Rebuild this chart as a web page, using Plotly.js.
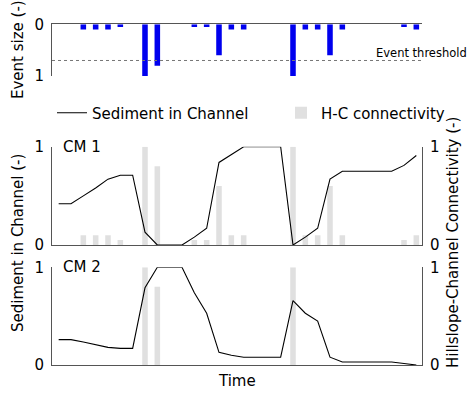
<!DOCTYPE html>
<html>
<head>
<meta charset="utf-8">
<script src="https://cdn.plot.ly/plotly-3.0.1.min.js"></script>
<style>
html,body{margin:0;padding:0;background:#fff;}
#chart{width:474px;height:406px;}
</style>
</head>
<body>
<div id="chart"></div>
<script>
// ---- data ----
var timeSteps = [0,1,2,3,4,5,6,7,8,9,10,11,12,13,14,15,16,17,18,19,20,21,22,23,24,25,26,27,28,29];
var eventSize = [0,0,0.1,0.1,0.1,0.05,0,1.0,0.8,0,0,0.05,0.05,0.6,0.1,0.1,0,0,0,1.0,0.1,0.1,0.6,0.1,0,0,0,0,0.05,0.1];
var eventThreshold = 0.7;
var connectivityCM1 = [0,0,0.1,0.1,0.1,0.05,0,1.0,0.8,0,0,0.05,0.05,0.6,0.1,0.1,0,0,0,1.0,0.1,0.1,0.6,0.1,0,0,0,0,0.05,0.1];
var connectivityCM2 = [0,0,0,0,0,0,0,1.0,0.8,0,0,0,0,0,0,0,0,0,0,1.0,0,0,0,0,0,0,0,0,0,0];
var sedimentCM1 = [0.42,0.42,0.50,0.58,0.67,0.71,0.71,0.13,0,0,0,0.08,0.17,0.84,0.92,1,1,1,1,0,0.08,0.17,0.67,0.75,0.75,0.75,0.75,0.75,0.81,0.91];
var sedimentCM2 = [0.26,0.26,0.235,0.21,0.18,0.17,0.17,0.79,1,1,1,0.74,0.53,0.13,0.10,0.08,0.08,0.08,0.08,0.66,0.53,0.45,0.08,0.03,0.03,0.03,0.03,0.03,0.015,0];
var panelLabels = ["CM 1", "CM 2"];
var tickVals = [0, 1];
var tickText = ["0", "1"];

// ---- layout helpers ----
var W = 474, H = 406;
function px(x){ return x / W; }
function py(y){ return (H - y) / H; }
var xDom = [px(52), px(422)];
var xRange = [-0.54, 29.46];
var FONT = "DejaVu Sans, sans-serif";
var AX = "#555";
var barW = 0.45;

var traces = [
  {type:"bar", x:timeSteps, y:eventSize, width:barW, xaxis:"x", yaxis:"y",
   marker:{color:"#0000ee", line:{width:0}}, showlegend:false, hoverinfo:"skip"},
  {type:"bar", x:timeSteps, y:connectivityCM1, width:barW, xaxis:"x2", yaxis:"y2",
   marker:{color:"#e0e0e0", line:{width:0}}, name:"H-C connectivity", legend:"legend2", showlegend:true},
  {type:"scatter", mode:"lines", x:timeSteps, y:sedimentCM1, xaxis:"x2", yaxis:"y4",
   line:{color:"#000", width:1.1}, name:"Sediment in Channel", legend:"legend", showlegend:true},
  {type:"bar", x:timeSteps, y:connectivityCM2, width:barW, xaxis:"x3", yaxis:"y3",
   marker:{color:"#e0e0e0", line:{width:0}}, showlegend:false},
  {type:"scatter", mode:"lines", x:timeSteps, y:sedimentCM2, xaxis:"x3", yaxis:"y5",
   line:{color:"#000", width:1.1}, showlegend:false}
];

function xa(anchor, side){
  return {domain:xDom, range:xRange, anchor:anchor, side:side||"bottom",
    showline:true, linecolor:AX, linewidth:1, ticks:"", showticklabels:false,
    showgrid:false, zeroline:false, fixedrange:true};
}
function ya(dom, anchor, range, side, overlay){
  var o = {domain:dom, range:range, anchor:anchor, side:side||"left",
    showline:true, linecolor:AX, linewidth:1, ticks:"inside", ticklen:6, tickcolor:AX,
    tickvals:tickVals, ticktext:tickText, ticklabelstandoff:4,
    tickfont:{family:FONT, size:15, color:"#000"},
    showgrid:false, zeroline:false, fixedrange:true};
  if (overlay) o.overlaying = overlay;
  return o;
}
function leg(xp){
  return {orientation:"h", x:px(xp), xanchor:"left", y:py(113), yanchor:"middle",
    font:{family:FONT, size:15, color:"#000"}, bgcolor:"rgba(0,0,0,0)", borderwidth:0, itemwidth:30};
}

var yTop = [py(76), py(24.3)];
var yMid = [py(245), py(146.7)];
var yBot = [py(365), py(267.3)];

var layout = {
  width:W, height:H,
  margin:{l:0, r:0, t:0, b:0},
  paper_bgcolor:"#fff", plot_bgcolor:"rgba(0,0,0,0)",
  font:{family:FONT, size:15, color:"#000"},
  barmode:"overlay",
  xaxis: xa("y", "top"),
  yaxis: ya(yTop, "x", [1, 0]),
  xaxis2: xa("y2"),
  yaxis2: ya(yMid, "x2", [0, 1]),
  yaxis4: ya(yMid, "x2", [0, 1], "right", "y2"),
  xaxis3: xa("y3"),
  yaxis3: ya(yBot, "x3", [0, 1]),
  yaxis5: ya(yBot, "x3", [0, 1], "right", "y3"),
  showlegend:true,
  legend: leg(52),
  legend2: leg(281),
  shapes:[
    {type:"line", xref:"x domain", yref:"y", x0:0, x1:1, y0:eventThreshold, y1:eventThreshold,
     line:{color:"#777", width:1, dash:"dot"}}
  ],
  annotations:[
    {text:"Event threshold", xref:"paper", yref:"y", x:px(469), y:eventThreshold, xanchor:"right", yanchor:"bottom",
     yshift:-2, showarrow:false, font:{family:FONT, size:11.5, color:"#000"}},
    {text:panelLabels[0], xref:"x2 domain", yref:"y2 domain", x:0.025, y:1, xanchor:"left", yanchor:"middle",
     showarrow:false, font:{family:FONT, size:15, color:"#000"}},
    {text:panelLabels[1], xref:"x3 domain", yref:"y3 domain", x:0.025, y:1, xanchor:"left", yanchor:"middle",
     showarrow:false, font:{family:FONT, size:15, color:"#000"}},
    {text:"Event size (-)", xref:"paper", yref:"paper", x:px(18), y:py(50), textangle:-90,
     xanchor:"center", yanchor:"middle", showarrow:false, font:{family:FONT, size:15, color:"#000"}},
    {text:"Sediment in Channel (-)", xref:"paper", yref:"paper", x:px(18), y:py(243), textangle:-90,
     xanchor:"center", yanchor:"middle", showarrow:false, font:{family:FONT, size:15, color:"#000"}},
    {text:"Hillslope-Channel Connectivity (-)", xref:"paper", yref:"paper", x:px(453), y:py(243), textangle:-90,
     xanchor:"center", yanchor:"middle", showarrow:false, font:{family:FONT, size:15, color:"#000"}},
    {text:"Time", xref:"paper", yref:"paper", x:px(237), y:py(381),
     xanchor:"center", yanchor:"middle", showarrow:false, font:{family:FONT, size:15, color:"#000"}}
  ]
};

Plotly.newPlot("chart", traces, layout, {displayModeBar:false, staticPlot:true});
</script>
</body>
</html>
